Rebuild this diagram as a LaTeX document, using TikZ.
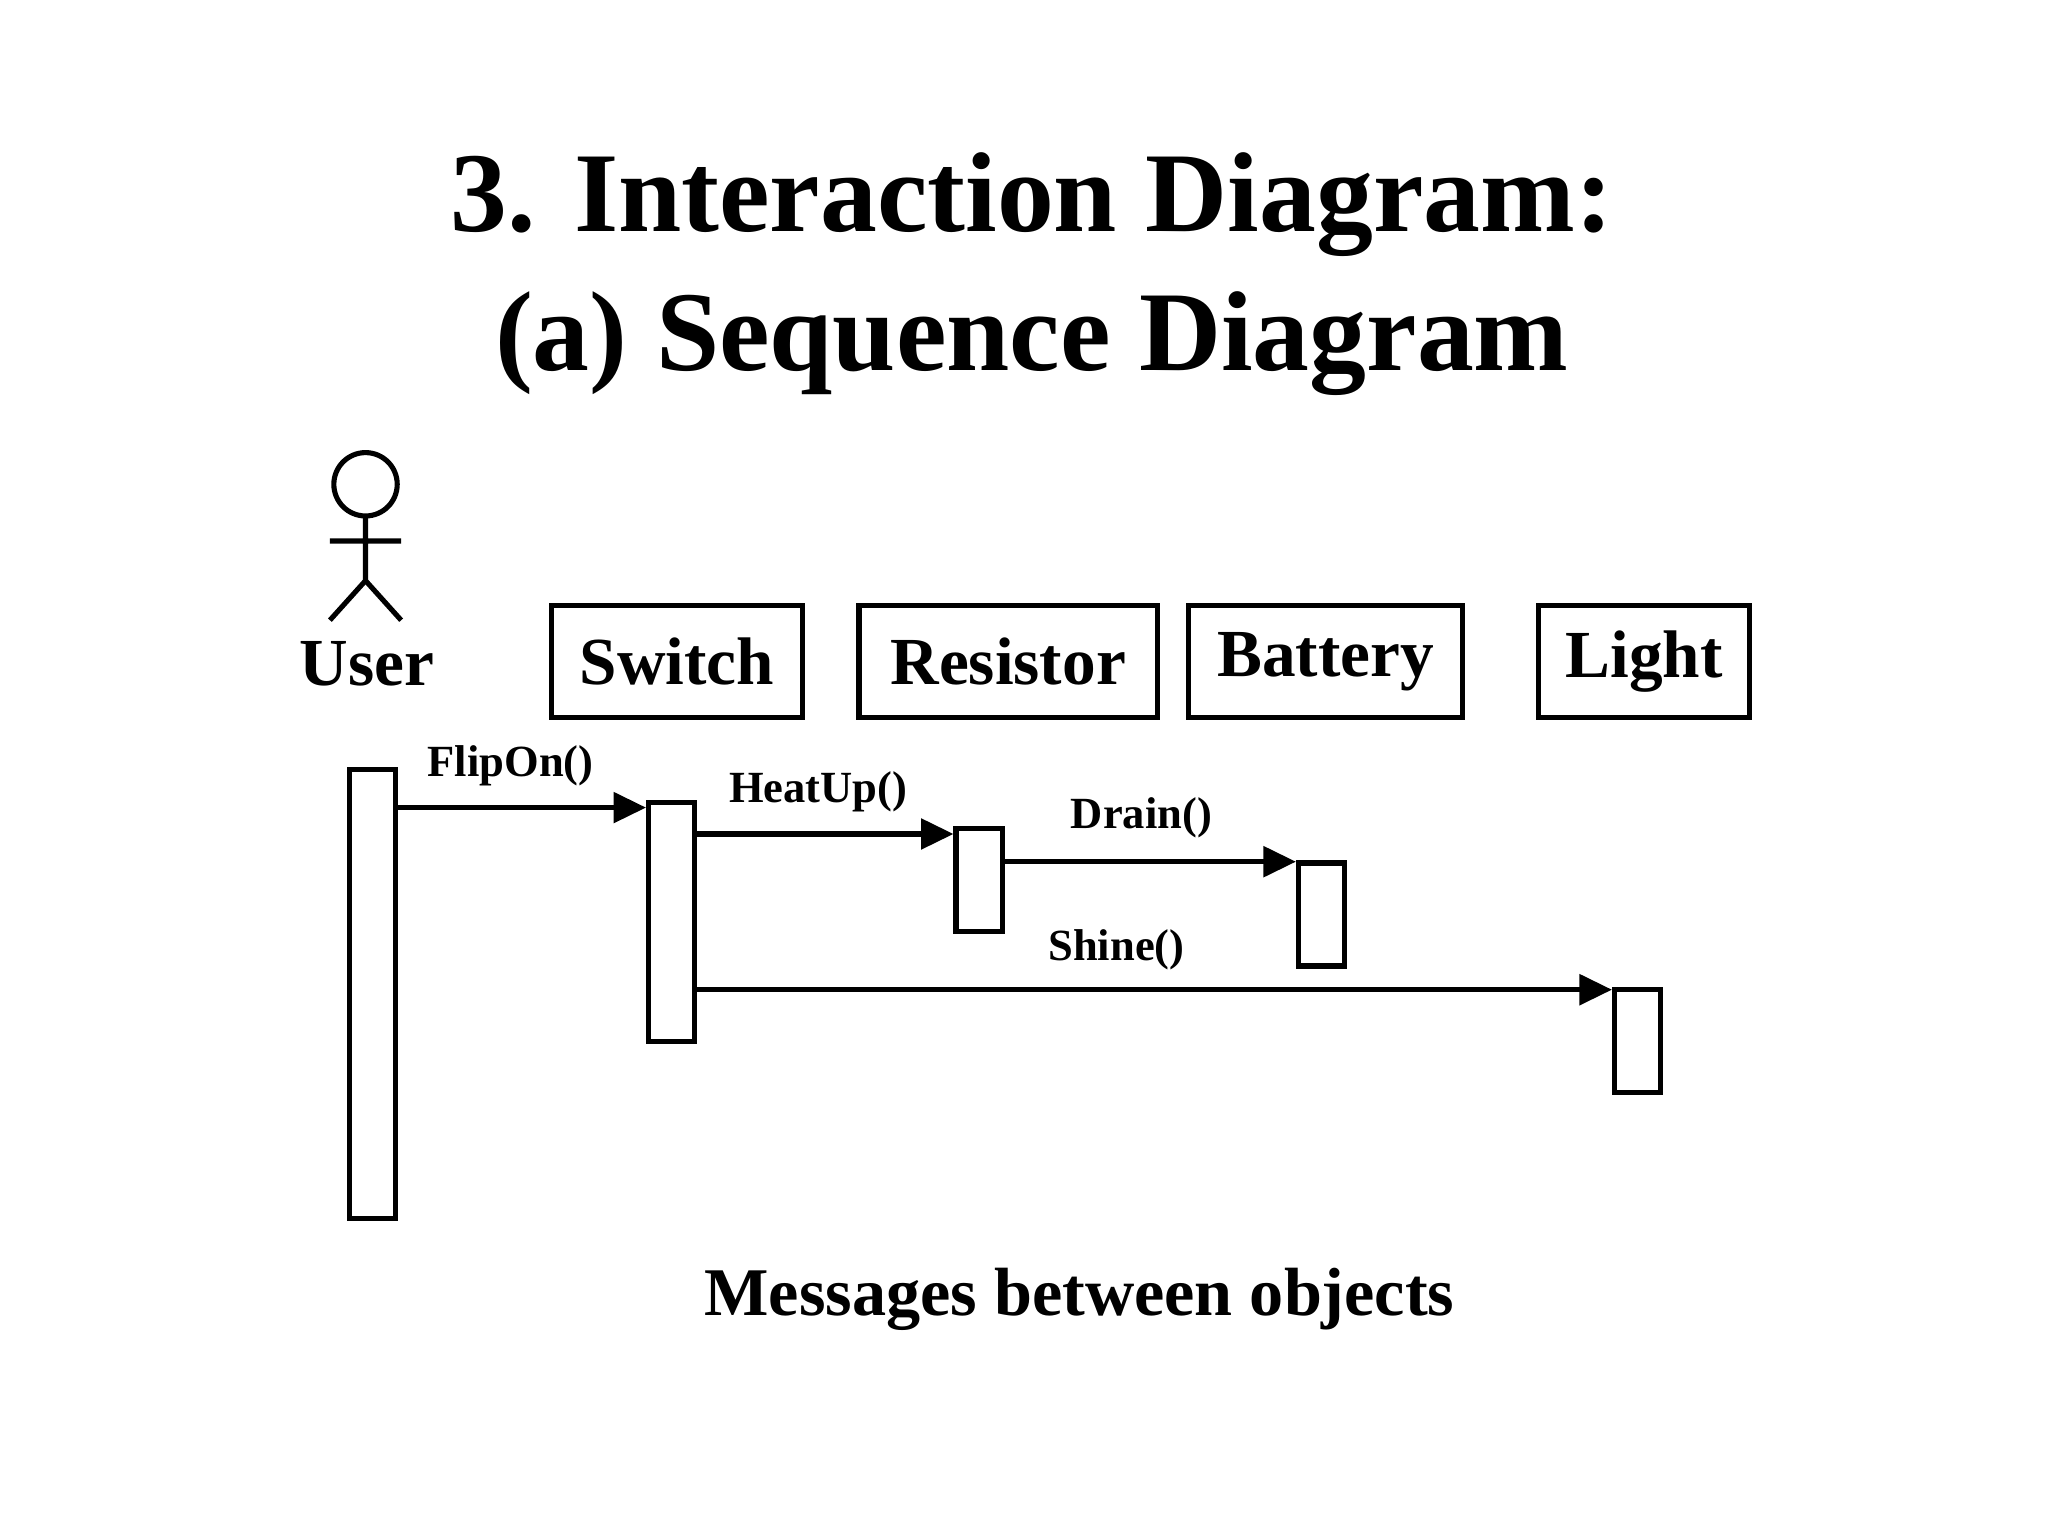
\documentclass[tikz,border=0pt]{standalone}
\usepackage{fontspec}
\setmainfont{Liberation Serif}
\usetikzlibrary{arrows.meta}
\begin{document}
\begin{tikzpicture}[x=0.01cm,y=-0.01cm,line width=1.1pt,
  obj/.style={draw,rectangle,inner sep=0pt,font=\fontsize{14.5}{18}\selectfont\bfseries},
  act/.style={draw,rectangle,inner sep=0pt,minimum width=0.35cm},
  msg/.style={-{Triangle[length=7pt,width=6.5pt]}},
  lab/.style={font=\fontsize{9.6}{11}\selectfont\bfseries}]
\useasboundingbox (0,0) rectangle (1552,1164);
\node[font=\fontsize{24.5}{30}\selectfont\bfseries,align=center] (title) at (782,208) {3. Interaction Diagram:\\(a) Sequence Diagram};
% actor
\draw (277,367) circle[radius=0.24cm];
\draw (277,391) -- (277,440) (250,410) -- (304,410) (250,470) -- (277,440) -- (304,470);
\node[font=\fontsize{14.5}{18}\selectfont\bfseries] (user) at (278,503) {User};
\node[obj,minimum width=1.9cm,minimum height=0.85cm] (switch) at (513,501.5) {Switch};
\node[obj,minimum width=2.26cm,minimum height=0.85cm] (resistor) at (764,501.5) {Resistor};
\node[obj,minimum width=2.07cm,minimum height=0.85cm] (battery) at (1004.5,501.5) {Battery};
\node[obj,minimum width=1.6cm,minimum height=0.85cm] (light) at (1246,501.5) {Light};
\node[act,minimum height=3.4cm] (ua) at (282.5,753) {};
\node[act,minimum height=1.81cm] (sa) at (509,698.5) {};
\node[act,minimum height=0.78cm] (ra) at (742,667) {};
\node[act,minimum height=0.78cm] (ba) at (1001.5,693) {};
\node[act,minimum height=0.78cm] (la) at (1241,789) {};
\draw[msg] (ua.east |- 0,612) -- (sa.west |- 0,612);
\draw[msg] (sa.east |- 0,632) -- (ra.west |- 0,632);
\draw[msg] (ra.east |- 0,653) -- (ba.west |- 0,653);
\draw[msg] (sa.east |- 0,750) -- (la.west |- 0,750);
\node[lab] (l1) at (387,580) {FlipOn()};
\node[lab] (l2) at (620,600) {HeatUp()};
\node[lab] (l3) at (865,620) {Drain()};
\node[lab] (l4) at (846,720) {Shine()};
\node[font=\fontsize{14.7}{17}\selectfont\bfseries] (cap) at (818,985) {Messages between objects};
\end{tikzpicture}
\end{document}
